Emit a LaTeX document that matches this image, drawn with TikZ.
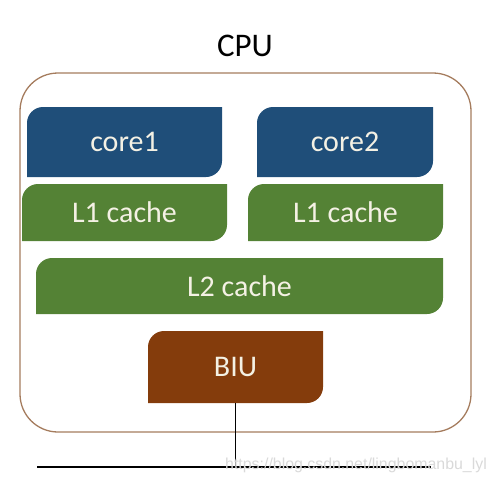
\documentclass[tikz,border=0pt]{standalone}
\usepackage{fontspec}
\setmainfont{Carlito}
\newfontfamily\wmfont{Liberation Sans}
\definecolor{coreblue}{HTML}{1F4E79}
\definecolor{cachegreen}{HTML}{548235}
\definecolor{biubrown}{HTML}{843C0C}
\definecolor{framebrown}{HTML}{A57C5E}
\definecolor{boxtext}{HTML}{F4F1E4}
\definecolor{wmgray}{HTML}{D9D9D9}
% #1 name, #2 colour, #3 x1, #4 y1, #5 x2, #6 y2, #7 text
\newcommand\myblk[7]{%
  \fill[#2] (#3,#6) -- (#3,#4+16) .. controls (#3,#4+7.2) and (#3+7.2,#4) .. (#3+16,#4)
    -- (#5,#4) -- (#5,#6-16) .. controls (#5,#6-7.2) and (#5-7.2,#6) .. (#5-16,#6) -- cycle;
  \node[lbl, minimum width={#5-#3}, minimum height={#6-#4}] (#1) at ({(#3+#5)/2},{(#4+#6)/2}) {#7};
}
\begin{document}
\begin{tikzpicture}[x=1pt,y=-1pt,
  lbl/.style={text=boxtext, font=\fontsize{30}{36}\selectfont, inner sep=0pt, shape=rectangle},
  frame/.style={draw=framebrown, line width=1.3pt, rounded corners=38pt, inner sep=0pt},
  wire/.style={draw=black, line width=1.3pt}]
\useasboundingbox (0,0) rectangle (495,480);
\node[font=\fontsize{33}{40}\selectfont, text=black] (title) at (245,46) {CPU};
\node[frame, minimum width=451pt, minimum height=359pt] (cpu) at (245.5,252.5) {};
\myblk{core1}{coreblue}{27}{107}{222}{177}{core1}
\myblk{core2}{coreblue}{257}{107}{433}{177}{core2}
\myblk{l1a}{cachegreen}{22}{184}{227}{241}{L1 cache}
\myblk{l1b}{cachegreen}{248}{184}{443}{241}{L1 cache}
\myblk{l2}{cachegreen}{36}{258}{443}{314}{L2 cache}
\myblk{biu}{biubrown}{148}{331}{323}{403}{BIU}
\coordinate (busL) at (37,467);
\coordinate (busR) at (431,467);
\coordinate (tap) at (biu.south |- busL);
\draw[wire] (busL) -- (busR);
\draw[wire] (biu.south) -- (tap);
\node[anchor=base west, inner sep=0pt, text=wmgray, font=\wmfont\fontsize{15.9}{18}\selectfont] (wm) at (225,469) {https://blog.csdn.net/lingbomanbu\_lyl};
\end{tikzpicture}
\end{document}
